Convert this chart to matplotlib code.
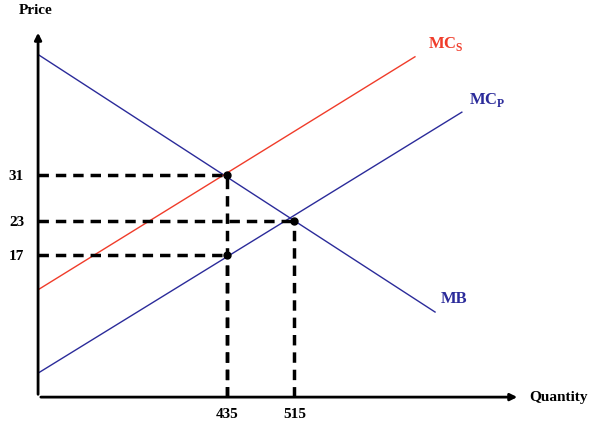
import matplotlib
matplotlib.use("Agg")
import matplotlib.pyplot as plt
import numpy as np

plt.rcParams['font.family'] = ['Liberation Serif']
plt.rcParams['font.weight'] = 'bold'

price_ticks = [17, 23, 31]
qty_ticks = [435, 515]
mb_q = [209, 683]; mb_p = [52.1, 7.0]
mcs_q = [209, 659]; mcs_p = [10.9, 51.7]
mcp_q = [209, 715]; mcp_p = [-3.7, 42.0]
points = [(435, 31), (435, 17), (515, 23)]

fig = plt.figure(figsize=(6.14, 4.34), dpi=100)
ax = fig.add_axes([0.062, 0.085, 0.785, 0.846])
xmin, xmax = 209, 209 + 482 * 1.194
ymin, ymax = -7.9, 56.4
ax.set_xlim(xmin, xmax); ax.set_ylim(ymin, ymax)
for s in ax.spines.values():
    s.set_visible(False)
ax.annotate('', xy=(xmax, ymin), xytext=(xmin, ymin),
            arrowprops=dict(arrowstyle='-|>', color='black', lw=2, mutation_scale=10), annotation_clip=False)
ax.annotate('', xy=(xmin, ymax), xytext=(xmin, ymin),
            arrowprops=dict(arrowstyle='-|>', color='black', lw=2, mutation_scale=10), annotation_clip=False)

ax.plot(mb_q, mb_p, color='#2b2b9a', lw=1)
ax.plot(mcs_q, mcs_p, color='#f03c2a', lw=1)
ax.plot(mcp_q, mcp_p, color='#2b2b9a', lw=1)

for q, p in points:
    ax.plot([xmin, q], [p, p], 'k--', lw=2.5, dashes=(3, 2))
    ax.plot([q, q], [ymin, p], 'k--', lw=2.5, dashes=(3, 2))
    ax.plot(q, p, 'ko', ms=5)

ax.set_xticks(qty_ticks); ax.set_yticks(price_ticks)
ax.tick_params(length=0, labelsize=11)
for t in ax.get_xticklabels() + ax.get_yticklabels():
    t.set_fontweight('bold')
ax.tick_params(axis='x', pad=8); ax.tick_params(axis='y', pad=10)

fig.text(0.03, 0.975, 'Price', fontsize=11, fontweight='bold', va='center')
fig.text(0.862, 0.085, 'Quantity', fontsize=11, fontweight='bold', va='center')
ax.text(675, 53.3, r'MC$_\mathregular{S}$', color='#f03c2a', fontsize=12, fontweight='bold')
ax.text(724, 43.5, r'MC$_\mathregular{P}$', color='#2b2b9a', fontsize=12, fontweight='bold')
ax.text(690, 8.5, 'MB', color='#2b2b9a', fontsize=12, fontweight='bold')

fig.savefig('out.png', dpi=100)
